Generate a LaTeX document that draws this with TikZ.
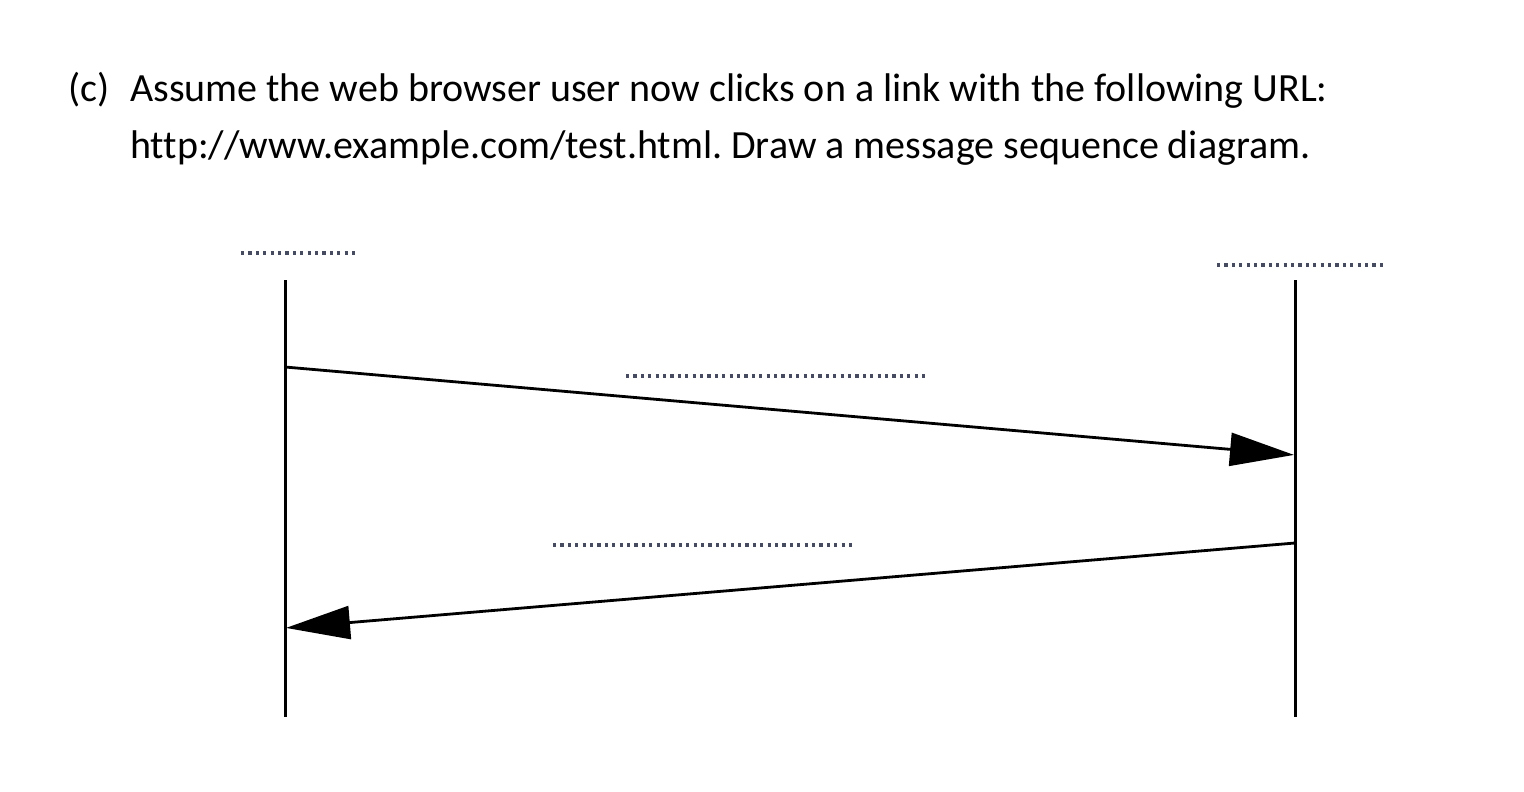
\documentclass[tikz,border=0pt]{standalone}
\usepackage{fontspec}
\setmainfont{Carlito}[Ligatures=NoCommon]
\usetikzlibrary{arrows.meta}
\tikzset{
  lifeline/.style={line width=3pt, black},
  msg/.style={line width=2.8pt, black, -{Triangle[length=64pt,width=33pt]}, shorten >=1pt},
  blank/.style={line width=3.2pt, draw={rgb,255:red,70;green,75;blue,95}, dash pattern=on 3.2pt off 4.2pt},
  qtext/.style={anchor=base west, inner sep=0pt, font=\fontsize{40}{48}\selectfont}
}
\frenchspacing
\begin{document}
\begin{tikzpicture}[x=1pt,y=-1pt]
\useasboundingbox (0,0) rectangle (1524,792);
\node[qtext] (lbl) at (68,101) {(c)};
\node[qtext] (l1) at (130,101) {Assume the web browser user now clicks on a link with the following URL:};
\node[qtext] (l2) at (130,158) {http://www.example.com/test.html. Draw a message sequence diagram.};
% lifelines
\coordinate (at) at (285,280);
\coordinate (ab) at (285,717);
\coordinate (bt) at (1295,280);
\coordinate (bb) at (1295,717);
\draw[lifeline] (at) -- (ab);
\draw[lifeline] (bt) -- (bb);
% name blanks
\coordinate (n1a) at (241,253); \coordinate (n1b) at (358,253);
\coordinate (n2a) at (1217,265); \coordinate (n2b) at (1386,265);
\draw[blank] (n1a) -- (n1b);
\draw[blank] (n2a) -- (n2b);
% messages
\coordinate (m1s) at (285,367);
\coordinate (m1e) at (1295,455);
\coordinate (m2s) at (1295,543);
\coordinate (m2e) at (285,628);
\draw[msg] (m1s) -- (m1e);
\draw[msg] (m2s) -- (m2e);
% message label blanks
\coordinate (b1a) at (626,376); \coordinate (b1b) at (928,376);
\coordinate (b2a) at (553,545); \coordinate (b2b) at (856,545);
\draw[blank] (b1a) -- (b1b);
\draw[blank] (b2a) -- (b2b);
\end{tikzpicture}
\end{document}
